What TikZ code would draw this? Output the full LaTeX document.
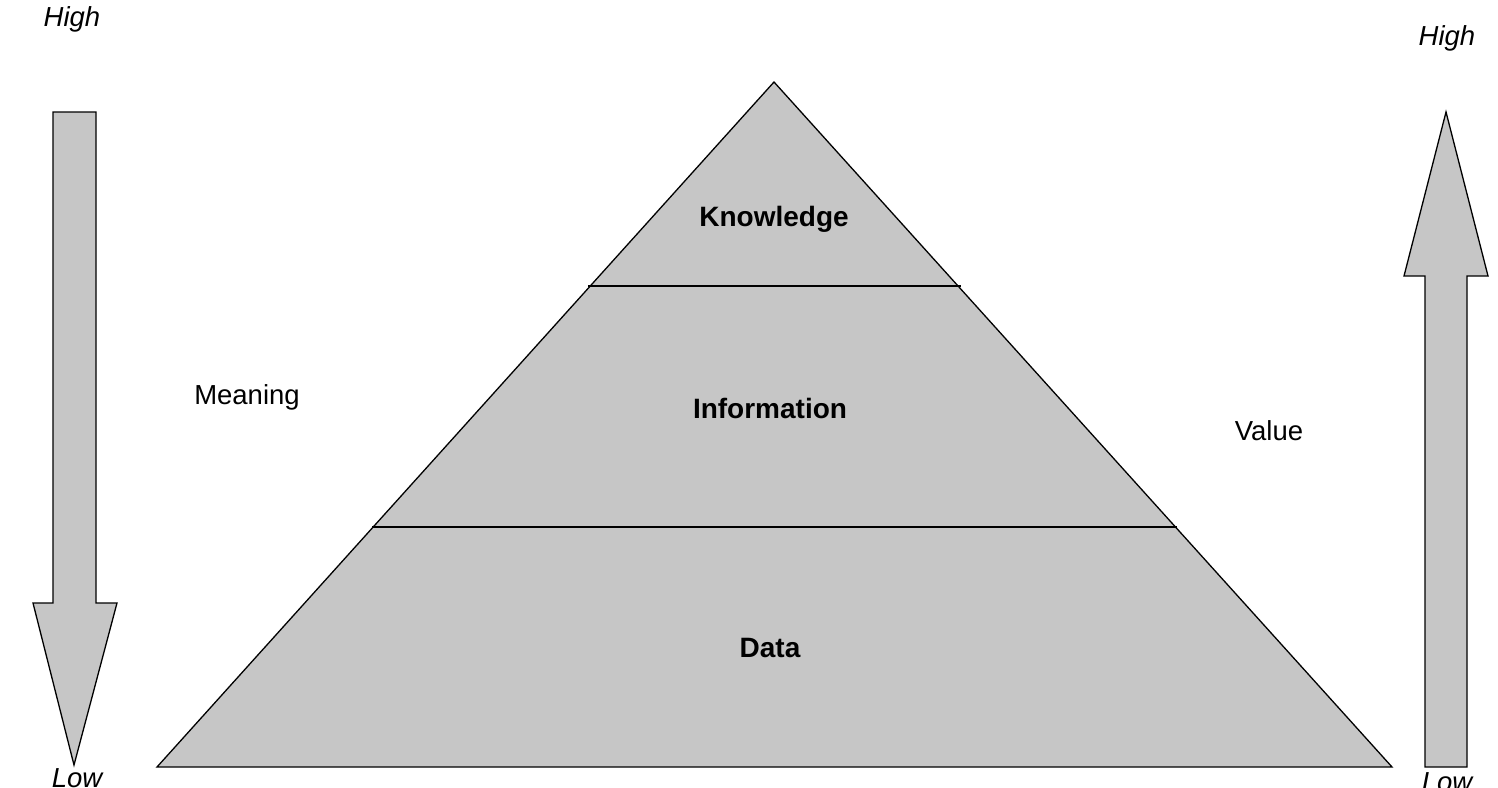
\documentclass[tikz,border=0pt]{standalone}
\usepackage{fontspec}
\setmainfont{Liberation Sans}
\begin{document}
\begin{tikzpicture}[x=1pt,y=-1pt,
  grayshape/.style={draw=black,fill=gray!45,line width=1.3pt,line join=miter},
  lbl/.style={inner sep=0pt,font=\fontsize{27.5}{32}\selectfont},
  blbl/.style={inner sep=0pt,font=\fontsize{28}{32}\selectfont\bfseries},
  ilbl/.style={inner sep=0pt,font=\fontsize{27.5}{32}\selectfont\itshape}]
\useasboundingbox (0,0) rectangle (1498,787);
\clip (0,0) rectangle (1498,787);
\draw[grayshape] (157,767) -- (774,82) -- (1392,767) -- cycle;
\draw[line width=1.3pt] (588,286) -- (961,286);
\draw[line width=1.3pt] (372,527) -- (1177,527);
\draw[grayshape] (53,112) -- (96,112) -- (96,603) -- (117,603) -- (74,765) -- (33,603) -- (53,603) -- cycle;
\draw[grayshape] (1425,767) -- (1467,767) -- (1467,276) -- (1488,276) -- (1446,112) -- (1404,276) -- (1425,276) -- cycle;
\node[blbl] (k) at (774,219) {Knowledge};
\node[blbl] (i) at (770,408) {Information};
\node[blbl] (d) at (770,648) {Data};
\node[lbl] (m) at (247,397) {Meaning};
\node[lbl] (v) at (1269,431) {Value};
\node[ilbl] (h1) at (72,19) {High};
\node[ilbl] (l1) at (77,778) {Low};
\node[ilbl] (h2) at (1447,38) {High};
\node[ilbl] (l2) at (1447,782) {Low};
\end{tikzpicture}
\end{document}
